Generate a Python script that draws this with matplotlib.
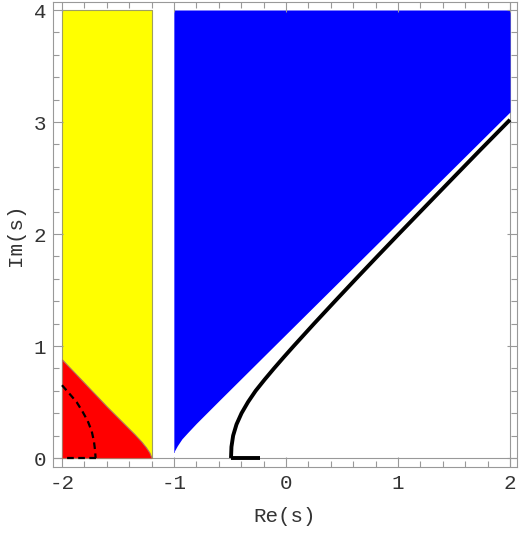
import numpy as np
import matplotlib.pyplot as plt
from matplotlib.ticker import MultipleLocator

plt.rcParams['font.family'] = ['Liberation Mono', 'DejaVu Sans Mono']
plt.rcParams['axes.unicode_minus'] = False

# yellow strip (Re limits) and its height
yellow_x = [-2.0, -1.2]
top_y = 4.0

# red corner region, upper boundary
red_x = [-2.0, -1.8, -1.6, -1.45, -1.35, -1.29, -1.25, -1.22, -1.2]
red_y = [0.88, 0.67, 0.46, 0.31, 0.21, 0.145, 0.095, 0.05, 0.0]

# blue region, lower boundary
blue_x = [-1.0, -0.97, -0.93, -0.88, -0.8, -0.6, -0.2, 0.5, 1.2, 2.0]
blue_y = [0.056, 0.11, 0.17, 0.225, 0.31, 0.51, 0.907, 1.601, 2.296, 3.09]

# black solid curve (read as x against y)
curve_y = [0.0, 0.1, 0.2, 0.3, 0.4, 0.5, 0.6, 0.7, 0.8, 0.9, 1.0,
           1.2, 1.4, 1.6, 1.8, 2.0, 2.25, 2.5, 2.75, 3.02]
curve_x = [-0.491, -0.487, -0.472, -0.442, -0.397, -0.339, -0.271, -0.191,
           -0.107, -0.020, 0.069, 0.251, 0.437, 0.625, 0.815, 1.007, 1.249,
           1.491, 1.734, 2.0]
seg_x = [-0.49, -0.23]

# black dashed curve
dash_x = [-2.0, -1.93, -1.87, -1.82, -1.77, -1.735, -1.715, -1.705, -1.70]
dash_y = [0.65, 0.57, 0.50, 0.42, 0.33, 0.24, 0.15, 0.07, 0.0]
dseg_x = [-1.70, -1.98]

fig = plt.figure(figsize=(5.2, 5.34), dpi=100)
ax = fig.add_axes([53/520, 67/534, 464/520, 465/534])

gray = '#999999'

# yellow strip
ax.fill_between(yellow_x, 0, top_y, color='#ffff00', edgecolor='#a0a060', linewidth=0.8, zorder=1)
# red corner
ax.fill_between(red_x, 0, red_y, color='#ff0000', edgecolor='#b07060', linewidth=0.8, zorder=2)
# blue region
ax.fill_between(blue_x, blue_y, top_y, color='#0000ff', linewidth=0, zorder=1)
ax.plot([blue_x[0], blue_x[0]], [blue_y[0], top_y], color='#5050ff', lw=0.6, zorder=1)

ax.plot(curve_x, curve_y, color='black', lw=2.8, solid_capstyle='butt',
        solid_joinstyle='round', zorder=4)
ax.plot(seg_x, [0, 0], color='black', lw=2.8, solid_capstyle='butt', zorder=4)
ax.plot(dash_x, dash_y, color='black', lw=1.6, ls=(0, (3, 2)), zorder=4)
ax.plot(dseg_x, [0, 0], color='black', lw=1.6, ls=(0, (3, 2)), zorder=4)

# thin lines at the plot range edges
ax.axhline(0, color=gray, lw=0.8, zorder=0)
ax.axvline(2, color=gray, lw=0.8, zorder=0)

ax.set_xlim(-2 - 9/112, 2 + 7/112)
ax.set_ylim(-9/112, 4 + 8/112)

ax.set_xticks([-2, -1, 0, 1, 2])
ax.set_xticklabels(['-2', '-1', '0', '1', '2'])
ax.set_yticks([0, 1, 2, 3, 4])
ax.set_yticklabels(['0', '1', '2', '3', '4'])
ax.xaxis.set_minor_locator(MultipleLocator(0.2))
ax.yaxis.set_minor_locator(MultipleLocator(0.2))
ax.tick_params(which='both', direction='in', top=True, right=True, color=gray,
               labelcolor='#333333', labelsize=15, width=0.8, pad=5)
ax.tick_params(which='major', length=7)
ax.tick_params(which='minor', length=4)
for s in ax.spines.values():
    s.set_color(gray)
    s.set_linewidth(0.8)

ax.set_xlabel('Re(s)', fontsize=15, color='#333333', labelpad=10)
ax.set_ylabel('Im(s)', fontsize=15, color='#333333', labelpad=6)

fig.savefig('out.png', dpi=100)
